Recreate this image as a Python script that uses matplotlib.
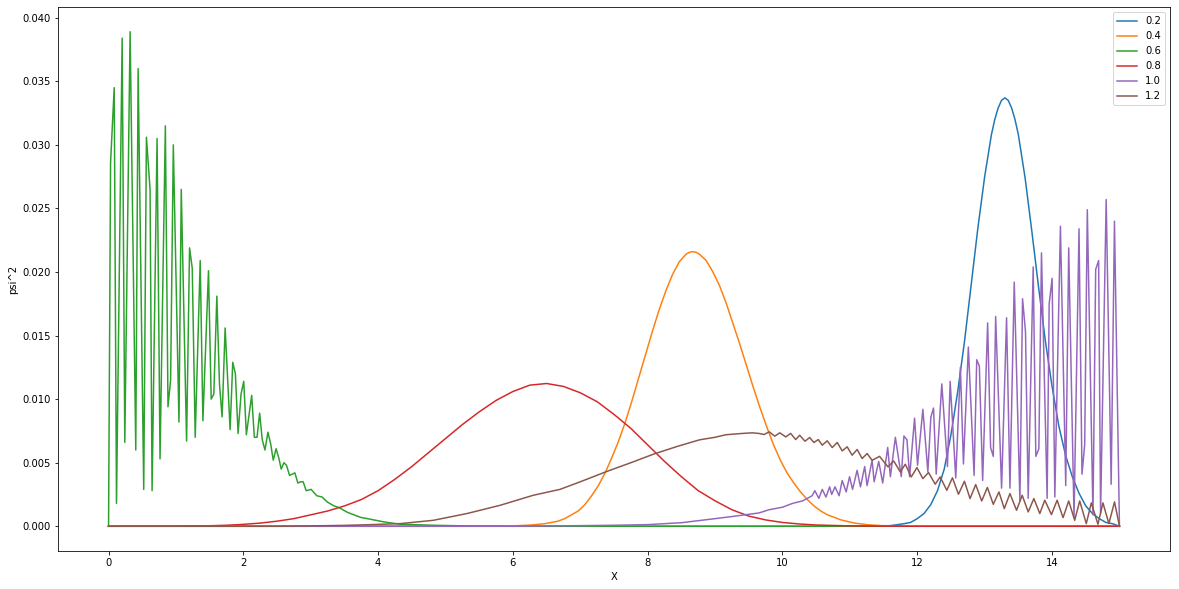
import matplotlib
matplotlib.use("Agg")
import matplotlib.pyplot as plt

labels = ["0.2", "0.4", "0.6", "0.8", "1.0", "1.2"]

blue_x = [0.0, 11.0, 11.4, 11.6, 11.8, 11.9, 12.0, 12.1, 12.2, 12.3, 12.4, 12.5, 12.6, 12.7, 12.8, 12.9,
          13.0, 13.1, 13.15, 13.2, 13.25, 13.3, 13.35, 13.4, 13.45, 13.5, 13.6, 13.7, 13.8, 13.9, 14.0,
          14.1, 14.2, 14.3, 14.4, 14.5, 14.6, 14.7, 14.8, 14.9, 15.0]
blue_y = [0.0, 0.0, 0.00002, 0.00005, 0.0002, 0.0003, 0.0006, 0.0010, 0.0017, 0.0028, 0.0045, 0.0072,
          0.0106, 0.0145, 0.0190, 0.0235, 0.0275, 0.0308, 0.0320, 0.0329, 0.0335, 0.0337, 0.0335, 0.0329,
          0.0320, 0.0308, 0.0274, 0.0232, 0.0188, 0.0146, 0.0110, 0.0079, 0.0056, 0.0039, 0.0026, 0.0016,
          0.0010, 0.0006, 0.0003, 0.0002, 0.0]

orange_x = [0.0, 5.5, 6.0, 6.268, 6.468, 6.668, 6.768, 6.868, 6.968, 7.068, 7.168, 7.268, 7.368, 7.468,
            7.568, 7.668, 7.768, 7.868, 7.968, 8.068, 8.168, 8.268, 8.368, 8.468, 8.568, 8.618, 8.668,
            8.718, 8.768, 8.868, 8.968, 9.068, 9.168, 9.268, 9.368, 9.468, 9.568, 9.668, 9.768, 9.868,
            9.968, 10.068, 10.168, 10.268, 10.368, 10.468, 10.568, 10.668, 10.868, 11.068, 11.268, 11.468,
            11.8, 12.0, 15.0]
orange_y = [0.0, 0.0, 0.00003, 0.0001, 0.0002, 0.0004, 0.0006, 0.0009, 0.0012, 0.0017, 0.0024, 0.0032,
            0.0042, 0.0054, 0.0067, 0.0082, 0.0099, 0.0117, 0.0135, 0.0153, 0.0170, 0.0185, 0.0198,
            0.0208, 0.0214, 0.02155, 0.0216, 0.02155, 0.0214, 0.0209, 0.0200, 0.0189, 0.0175, 0.0159,
            0.0143, 0.0126, 0.0109, 0.0093, 0.0078, 0.0064, 0.0052, 0.0042, 0.0034, 0.0027, 0.0021,
            0.0016, 0.0012, 0.0009, 0.0005, 0.00025, 0.00012, 0.00005, 0.00001, 0.0, 0.0]

green_x = [0.0, 0.030, 0.084, 0.118, 0.202, 0.241, 0.320, 0.404, 0.439, 0.522, 0.562, 0.616, 0.646, 0.720,
           0.764, 0.843, 0.882, 0.921, 0.961, 1.045, 1.079, 1.158, 1.202, 1.242, 1.286, 1.360, 1.400, 1.483,
           1.523, 1.562, 1.607, 1.646, 1.685, 1.730, 1.804, 1.843, 1.882, 1.922, 1.966, 2.006, 2.045, 2.124,
           2.163, 2.203, 2.242, 2.281, 2.321, 2.365, 2.405, 2.444, 2.486, 2.525, 2.562, 2.602, 2.64, 2.686,
           2.765, 2.809, 2.853, 2.888, 2.932, 3.006, 3.090, 3.169, 3.248, 3.346, 3.42, 3.544, 3.740, 3.84,
           4.09, 4.33, 4.82, 5.3, 6.0, 15.0]
green_y = [0.0, 0.0286, 0.0345, 0.0018, 0.0384, 0.0066, 0.0389, 0.0060, 0.0360, 0.0029, 0.0306, 0.0265, 0.0028,
           0.0305, 0.0053, 0.0315, 0.0094, 0.0115, 0.0300, 0.0082, 0.0265, 0.0067, 0.0219, 0.0203, 0.0070,
           0.0209, 0.0083, 0.0201, 0.0100, 0.0104, 0.0181, 0.0112, 0.0086, 0.0156, 0.0076, 0.0129, 0.0120,
           0.0073, 0.0104, 0.0114, 0.0072, 0.0103, 0.0070, 0.0070, 0.0089, 0.0068, 0.0060, 0.0074, 0.0065,
           0.0052, 0.0061, 0.0054, 0.0045, 0.0050, 0.0048, 0.0040, 0.0042, 0.0034, 0.0035, 0.0035, 0.0028,
           0.0029, 0.0024, 0.0023, 0.0019, 0.0016, 0.00147, 0.0011, 0.0007, 0.0006, 0.00034, 0.00016, 0.00008,
           0.00003, 0.0, 0.0]

red_x = [0.0, 1.0, 1.5, 1.75, 2.0, 2.25, 2.5, 2.75, 3.0, 3.25, 3.5, 3.75, 4.0, 4.25, 4.5, 4.75, 5.0, 5.25,
         5.5, 5.75, 6.0, 6.25, 6.5, 6.75, 7.0, 7.25, 7.5, 7.75, 8.0, 8.25, 8.5, 8.75, 9.0, 9.25, 9.5,
         9.75, 10.0, 10.25, 10.5, 11.0, 11.5, 12.0, 15.0]
red_y = [0.0, 0.00001, 0.00004, 0.00008, 0.00015, 0.00025, 0.0004, 0.0006, 0.0009, 0.0012, 0.0016, 0.0021,
         0.0028, 0.0037, 0.0047, 0.0058, 0.0069, 0.0080, 0.0090, 0.0099, 0.0106, 0.0111, 0.01123, 0.0110,
         0.0105, 0.0098, 0.0088, 0.0077, 0.0064, 0.0051, 0.0039, 0.0028, 0.0020, 0.0013, 0.0008, 0.0005,
         0.0003, 0.00018, 0.0001, 0.00003, 0.00001, 0.0, 0.0]

purple_x = [0.0, 6.0, 7.0, 7.5, 8.0, 8.5, 9.0, 9.3, 9.654, 9.8, 10.0, 10.15, 10.3, 10.44,
            10.48, 10.54, 10.59, 10.645, 10.70, 10.73, 10.78, 10.84, 10.886, 10.945, 10.995, 11.04, 11.107,
            11.157, 11.22, 11.255, 11.33, 11.36, 11.428, 11.487, 11.561, 11.601, 11.675, 11.763, 11.802,
            11.847, 11.886, 11.960, 12.004, 12.083, 12.157, 12.202, 12.241, 12.281, 12.364, 12.448, 12.488,
            12.571, 12.640, 12.685, 12.758, 12.843, 12.882, 12.921, 12.970, 13.044, 13.088, 13.128, 13.163,
            13.251, 13.325, 13.375, 13.439, 13.523, 13.562, 13.606, 13.646, 13.720, 13.759, 13.804, 13.843,
            13.927, 13.957, 14.001, 14.041, 14.124, 14.203, 14.247, 14.326, 14.400, 14.444, 14.484, 14.523,
            14.607, 14.647, 14.691, 14.720, 14.803, 14.877, 14.926, 15.0]
purple_y = [0.0, 0.0, 0.00005, 0.00008, 0.00013, 0.00028, 0.0006, 0.0008, 0.00105, 0.0013, 0.0015, 0.0018,
            0.0020, 0.0024,
            0.0028, 0.0022, 0.0029, 0.0023, 0.0031, 0.0025, 0.0031, 0.0024, 0.0036, 0.0027, 0.0039, 0.0029,
            0.0044, 0.0031, 0.0047, 0.0032, 0.0052, 0.0035, 0.0051, 0.0034, 0.0062, 0.0039, 0.0070, 0.0039,
            0.0071, 0.0068, 0.0039, 0.0085, 0.0048, 0.0092, 0.0043, 0.0086, 0.0093, 0.0041, 0.0112, 0.0047,
            0.0114, 0.0038, 0.0125, 0.0049, 0.0141, 0.0040, 0.0131, 0.0126, 0.0036, 0.0160, 0.0062, 0.0055,
            0.0165, 0.0030, 0.0164, 0.0030, 0.0192, 0.0020, 0.0179, 0.0153, 0.0022, 0.0204, 0.0055, 0.0061,
            0.0215, 0.0022, 0.0175, 0.0195, 0.0023, 0.0236, 0.0032, 0.0219, 0.0007, 0.0234, 0.0041, 0.0064,
            0.0249, 0.0009, 0.0202, 0.0209, 0.0010, 0.0257, 0.0033, 0.0240, 0.0]

brown_x = [0.0, 2.5, 3.0, 3.5, 3.84, 4.33, 4.82, 5.317, 5.81, 6.303, 6.697, 7.0, 7.387, 7.75, 8.1, 8.45, 8.77,
           9.0, 9.16, 9.4, 9.55, 9.654, 9.728, 9.802, 9.886, 9.960, 10.048, 10.122, 10.196, 10.255, 10.334,
           10.403, 10.467, 10.531, 10.590, 10.664, 10.738, 10.812, 10.886, 10.960, 11.034, 11.108, 11.182,
           11.256, 11.330, 11.44, 11.566, 11.650, 11.748, 11.822, 11.911, 11.995, 12.083, 12.167, 12.266,
           12.340, 12.438, 12.522, 12.611, 12.700, 12.783, 12.867, 12.956, 13.040, 13.128, 13.212, 13.291,
           13.375, 13.473, 13.557, 13.646, 13.730, 13.818, 13.892, 13.991, 14.075, 14.163, 14.247, 14.336,
           14.410, 14.508, 14.582, 14.681, 14.755, 14.843, 14.927, 15.0]
brown_y = [0.0, 0.0, 0.00003, 0.00007, 0.00012, 0.00021, 0.00047, 0.0010, 0.00165, 0.00244, 0.0029, 0.0035,
           0.0043, 0.0050, 0.0057, 0.0063, 0.0068, 0.0070, 0.0072, 0.0073, 0.00735, 0.0073, 0.00722, 0.00743,
           0.00709, 0.00735, 0.00703, 0.00730, 0.00682, 0.00716, 0.00669, 0.00698, 0.00659, 0.00682, 0.00638,
           0.00672, 0.00619, 0.00659, 0.00593, 0.00625, 0.00559, 0.00604, 0.00533, 0.00572, 0.00519, 0.0055,
           0.00467, 0.00514, 0.00428, 0.00488, 0.00388, 0.00462, 0.00375, 0.00423, 0.00331, 0.00388, 0.00283,
           0.00381, 0.00252, 0.00354, 0.00218, 0.00328, 0.00199, 0.00305, 0.00173, 0.00270, 0.00139, 0.00257,
           0.00126, 0.00244, 0.00113, 0.00218, 0.00100, 0.00205, 0.00092, 0.00205, 0.00068, 0.00199, 0.00047,
           0.00199, 0.00021, 0.00184, 0.00016, 0.00184, 0.00021, 0.00192, 0.0]

series = [(blue_x, blue_y), (orange_x, orange_y), (green_x, green_y),
          (red_x, red_y), (purple_x, purple_y), (brown_x, brown_y)]

fig = plt.figure(figsize=(1179 / 72, 589 / 72), dpi=72)
ax = fig.add_axes([58 / 1179, 38 / 589, 1112 / 1179, 544 / 589])
for (xs, ys), lab in zip(series, labels):
    ax.plot(xs, ys, label=lab)
ax.set_xlabel("X")
ax.set_ylabel("psi^2")
ax.legend(loc="upper right")
fig.savefig("out.png", dpi=72)
